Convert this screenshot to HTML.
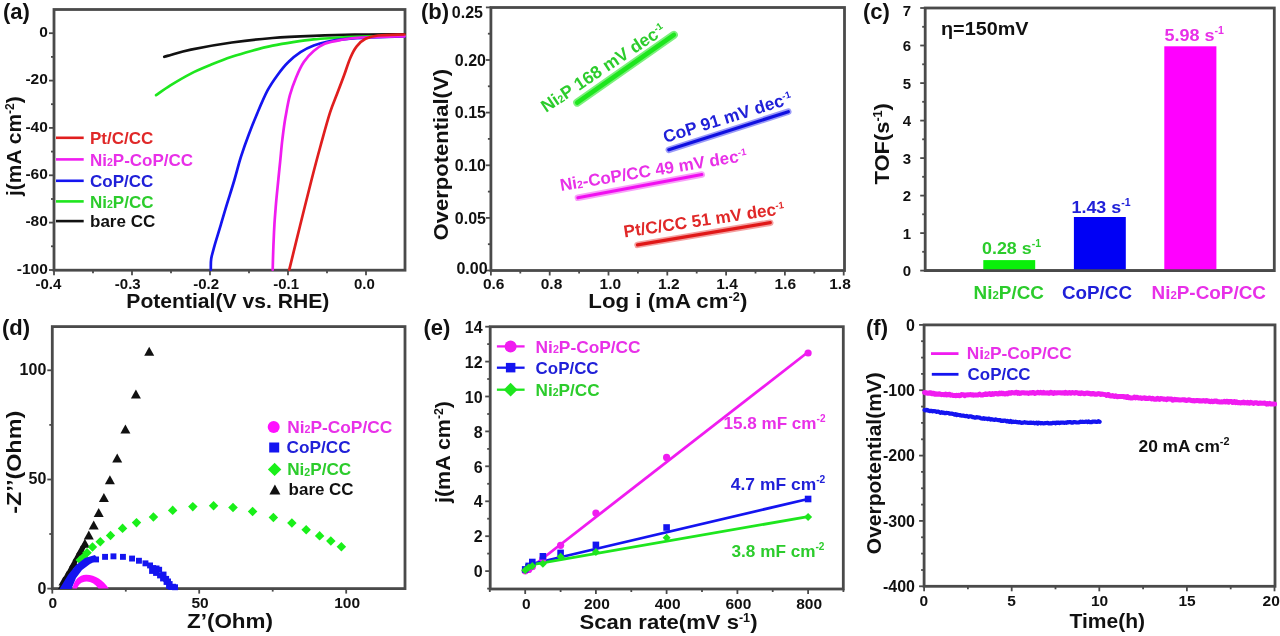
<!DOCTYPE html>
<html><head><meta charset="utf-8"><style>
html,body{margin:0;padding:0;background:#fff;}
svg{display:block;filter:blur(0.5px);}
text{font-family:"Liberation Sans", sans-serif;font-weight:bold;}
</style></head><body>
<svg width="1280" height="636" viewBox="0 0 1280 636">
<rect width="1280" height="636" fill="#fff"/>
<text x="3.0" y="19.2" font-size="22" fill="#111" >(a)</text>
<rect x="54.0" y="9.5" width="351.0" height="260.7" fill="none" stroke="#4a4a4a" stroke-width="2.8"/>
<line x1="49.0" y1="33.2" x2="54.0" y2="33.2" stroke="#4a4a4a" stroke-width="1.8" />
<line x1="49.0" y1="80.6" x2="54.0" y2="80.6" stroke="#4a4a4a" stroke-width="1.8" />
<line x1="49.0" y1="127.9" x2="54.0" y2="127.9" stroke="#4a4a4a" stroke-width="1.8" />
<line x1="49.0" y1="175.3" x2="54.0" y2="175.3" stroke="#4a4a4a" stroke-width="1.8" />
<line x1="49.0" y1="222.6" x2="54.0" y2="222.6" stroke="#4a4a4a" stroke-width="1.8" />
<line x1="49.0" y1="270.0" x2="54.0" y2="270.0" stroke="#4a4a4a" stroke-width="1.8" />
<line x1="51.0" y1="56.9" x2="54.0" y2="56.9" stroke="#4a4a4a" stroke-width="1.8" />
<line x1="51.0" y1="104.2" x2="54.0" y2="104.2" stroke="#4a4a4a" stroke-width="1.8" />
<line x1="51.0" y1="151.6" x2="54.0" y2="151.6" stroke="#4a4a4a" stroke-width="1.8" />
<line x1="51.0" y1="199.0" x2="54.0" y2="199.0" stroke="#4a4a4a" stroke-width="1.8" />
<line x1="51.0" y1="246.3" x2="54.0" y2="246.3" stroke="#4a4a4a" stroke-width="1.8" />
<line x1="54.0" y1="270.2" x2="54.0" y2="275.2" stroke="#4a4a4a" stroke-width="1.8" />
<line x1="132.0" y1="270.2" x2="132.0" y2="275.2" stroke="#4a4a4a" stroke-width="1.8" />
<line x1="210.0" y1="270.2" x2="210.0" y2="275.2" stroke="#4a4a4a" stroke-width="1.8" />
<line x1="288.0" y1="270.2" x2="288.0" y2="275.2" stroke="#4a4a4a" stroke-width="1.8" />
<line x1="366.0" y1="270.2" x2="366.0" y2="275.2" stroke="#4a4a4a" stroke-width="1.8" />
<line x1="93.0" y1="270.2" x2="93.0" y2="273.2" stroke="#4a4a4a" stroke-width="1.8" />
<line x1="171.0" y1="270.2" x2="171.0" y2="273.2" stroke="#4a4a4a" stroke-width="1.8" />
<line x1="249.0" y1="270.2" x2="249.0" y2="273.2" stroke="#4a4a4a" stroke-width="1.8" />
<line x1="327.0" y1="270.2" x2="327.0" y2="273.2" stroke="#4a4a4a" stroke-width="1.8" />
<text x="47.8" y="36.7" font-size="15.5" fill="#111" text-anchor="end" >0</text>
<text x="47.8" y="84.1" font-size="15.5" fill="#111" text-anchor="end" >-20</text>
<text x="47.8" y="131.5" font-size="15.5" fill="#111" text-anchor="end" >-40</text>
<text x="47.8" y="178.8" font-size="15.5" fill="#111" text-anchor="end" >-60</text>
<text x="47.8" y="226.2" font-size="15.5" fill="#111" text-anchor="end" >-80</text>
<text x="47.8" y="273.5" font-size="15.5" fill="#111" text-anchor="end" >-100</text>
<text x="35.5" y="288.6" font-size="15" fill="#111" >-0.4</text>
<text x="114.8" y="288.6" font-size="15" fill="#111" >-0.3</text>
<text x="193.2" y="288.6" font-size="15" fill="#111" >-0.2</text>
<text x="273.2" y="288.6" font-size="15" fill="#111" >-0.1</text>
<text x="354.0" y="288.6" font-size="15" fill="#111" >0.0</text>
<text x="126.3" y="308.4" font-size="21" fill="#111" textLength="203.0" lengthAdjust="spacingAndGlyphs" >Potential(V vs. RHE)</text>
<text x="20.8" y="196.0" font-size="21" fill="#111" transform="rotate(-90 20.8 196.0)" >j(mA cm<tspan font-size="12" dy="-7">-2</tspan><tspan dy="7">)</tspan></text>
<path d="M164.3,56.8 C165.2,56.5 165.6,56.4 170.0,55.2 C174.4,54.0 180.6,51.7 190.9,49.6 C201.2,47.5 218.2,44.4 231.8,42.5 C245.4,40.6 259.0,39.1 272.6,38.0 C286.2,36.9 299.9,36.4 313.5,35.9 C327.1,35.4 339.2,35.0 354.4,34.7 C369.6,34.4 396.1,34.4 404.5,34.3" fill="none" stroke="#111" stroke-width="2.7" stroke-linejoin="round" stroke-linecap="round" />
<path d="M156.1,95.2 C158.5,93.6 164.6,89.0 170.4,85.4 C176.2,81.8 184.1,77.1 190.9,73.6 C197.7,70.1 204.5,67.4 211.3,64.6 C218.1,61.8 225.0,59.1 231.8,56.8 C238.6,54.5 245.4,52.6 252.2,50.7 C259.0,48.8 265.8,47.0 272.6,45.6 C279.4,44.2 286.3,43.1 293.1,42.1 C299.9,41.1 306.7,40.1 313.5,39.4 C320.3,38.7 327.2,38.4 334.0,38.0 C340.8,37.6 342.6,37.1 354.4,36.8 C366.1,36.4 396.1,36.0 404.5,35.9" fill="none" stroke="#1ee61e" stroke-width="2.7" stroke-linejoin="round" stroke-linecap="round" />
<path d="M210.8,269.6 C210.9,267.8 210.6,262.7 211.2,258.8 C211.8,254.9 212.8,251.8 214.4,246.1 C216.0,240.4 218.7,232.0 220.8,224.9 C222.9,217.8 224.8,211.2 227.1,203.7 C229.4,196.2 232.1,187.8 234.4,180.0 C236.7,172.2 238.6,164.2 241.0,156.7 C243.4,149.1 245.9,142.0 248.7,134.7 C251.4,127.4 254.4,120.0 257.5,112.7 C260.6,105.4 264.1,97.0 267.4,90.7 C270.7,84.5 273.9,80.0 277.4,75.2 C280.9,70.4 284.5,65.8 288.4,62.0 C292.2,58.1 296.3,54.9 300.5,52.1 C304.7,49.4 309.3,47.2 313.7,45.5 C318.1,43.8 321.7,42.8 326.9,41.8 C332.1,40.8 337.8,39.9 345.0,39.2 C352.2,38.5 360.1,38.0 370.0,37.5 C379.9,37.0 398.8,36.7 404.5,36.5" fill="none" stroke="#1414f0" stroke-width="2.7" stroke-linejoin="round" stroke-linecap="round" />
<path d="M272.7,269.6 C272.8,265.7 273.1,253.6 273.4,246.1 C273.7,238.6 274.0,232.0 274.4,224.9 C274.8,217.8 275.4,211.2 276.0,203.7 C276.6,196.2 277.6,187.1 278.3,180.0 C279.0,172.9 279.5,167.9 280.2,161.1 C280.9,154.3 281.5,146.4 282.4,139.1 C283.3,131.8 284.2,124.4 285.5,117.1 C286.8,109.8 288.1,101.7 289.9,95.1 C291.7,88.5 293.8,82.9 296.1,77.4 C298.4,71.9 300.9,66.4 303.8,62.0 C306.7,57.6 310.2,54.0 313.7,51.0 C317.2,48.0 320.3,45.6 324.7,43.8 C329.1,42.0 334.4,41.1 340.3,40.1 C346.2,39.1 349.7,38.1 360.4,37.5 C371.1,36.9 397.1,36.5 404.5,36.3" fill="none" stroke="#f01cf0" stroke-width="2.7" stroke-linejoin="round" stroke-linecap="round" />
<path d="M289.3,269.6 C291.1,262.3 296.3,240.9 300.0,226.0 C303.7,211.1 308.1,193.3 311.5,180.0 C314.9,166.7 317.4,157.2 320.5,146.0 C323.6,134.8 327.2,121.4 330.0,112.7 C332.8,104.0 334.6,100.2 337.0,94.0 C339.4,87.8 341.9,81.3 344.1,75.3 C346.3,69.2 348.3,62.5 350.4,57.7 C352.5,52.9 354.2,49.5 356.7,46.4 C359.2,43.2 361.9,40.6 365.5,38.8 C369.1,37.0 371.5,36.2 378.0,35.5 C384.5,34.8 400.1,34.7 404.5,34.5" fill="none" stroke="#e01e1e" stroke-width="2.7" stroke-linejoin="round" stroke-linecap="round" />
<line x1="56.0" y1="137.8" x2="83.7" y2="137.8" stroke="#e01e1e" stroke-width="2.6" />
<text x="90.0" y="144.0" font-size="17" fill="#e02828" >Pt/C/CC</text>
<line x1="56.0" y1="159.4" x2="83.7" y2="159.4" stroke="#f01cf0" stroke-width="2.6" />
<text x="90.0" y="165.6" font-size="17" fill="#e830e8" >Ni<tspan font-size="10.5" dy="0.3">2</tspan><tspan dy="-0.3">P-CoP/CC</tspan></text>
<line x1="56.0" y1="180.8" x2="83.7" y2="180.8" stroke="#1414f0" stroke-width="2.6" />
<text x="90.0" y="187.0" font-size="17" fill="#2020d8" >CoP/CC</text>
<line x1="56.0" y1="201.4" x2="83.7" y2="201.4" stroke="#1ee61e" stroke-width="2.6" />
<text x="90.0" y="207.6" font-size="17" fill="#2ccc2c" >Ni<tspan font-size="10.5" dy="0.3">2</tspan><tspan dy="-0.3">P/CC</tspan></text>
<line x1="56.0" y1="221.1" x2="83.7" y2="221.1" stroke="#111" stroke-width="2.6" />
<text x="90.0" y="227.3" font-size="17" fill="#111" >bare CC</text>
<text x="421.0" y="19.2" font-size="22" fill="#111" >(b)</text>
<rect x="490.9" y="7.5" width="353.6" height="263.0" fill="none" stroke="#4a4a4a" stroke-width="2.8"/>
<line x1="485.9" y1="270.5" x2="490.9" y2="270.5" stroke="#4a4a4a" stroke-width="1.8" />
<line x1="485.9" y1="217.9" x2="490.9" y2="217.9" stroke="#4a4a4a" stroke-width="1.8" />
<line x1="485.9" y1="165.3" x2="490.9" y2="165.3" stroke="#4a4a4a" stroke-width="1.8" />
<line x1="485.9" y1="112.6" x2="490.9" y2="112.6" stroke="#4a4a4a" stroke-width="1.8" />
<line x1="485.9" y1="60.0" x2="490.9" y2="60.0" stroke="#4a4a4a" stroke-width="1.8" />
<line x1="485.9" y1="7.4" x2="490.9" y2="7.4" stroke="#4a4a4a" stroke-width="1.8" />
<line x1="487.9" y1="244.2" x2="490.9" y2="244.2" stroke="#4a4a4a" stroke-width="1.8" />
<line x1="487.9" y1="191.6" x2="490.9" y2="191.6" stroke="#4a4a4a" stroke-width="1.8" />
<line x1="487.9" y1="138.9" x2="490.9" y2="138.9" stroke="#4a4a4a" stroke-width="1.8" />
<line x1="487.9" y1="86.3" x2="490.9" y2="86.3" stroke="#4a4a4a" stroke-width="1.8" />
<line x1="487.9" y1="33.7" x2="490.9" y2="33.7" stroke="#4a4a4a" stroke-width="1.8" />
<line x1="490.9" y1="270.5" x2="490.9" y2="275.5" stroke="#4a4a4a" stroke-width="1.8" />
<line x1="549.7" y1="270.5" x2="549.7" y2="275.5" stroke="#4a4a4a" stroke-width="1.8" />
<line x1="608.5" y1="270.5" x2="608.5" y2="275.5" stroke="#4a4a4a" stroke-width="1.8" />
<line x1="667.3" y1="270.5" x2="667.3" y2="275.5" stroke="#4a4a4a" stroke-width="1.8" />
<line x1="726.1" y1="270.5" x2="726.1" y2="275.5" stroke="#4a4a4a" stroke-width="1.8" />
<line x1="784.9" y1="270.5" x2="784.9" y2="275.5" stroke="#4a4a4a" stroke-width="1.8" />
<line x1="843.7" y1="270.5" x2="843.7" y2="275.5" stroke="#4a4a4a" stroke-width="1.8" />
<line x1="520.3" y1="270.5" x2="520.3" y2="273.5" stroke="#4a4a4a" stroke-width="1.8" />
<line x1="579.1" y1="270.5" x2="579.1" y2="273.5" stroke="#4a4a4a" stroke-width="1.8" />
<line x1="637.9" y1="270.5" x2="637.9" y2="273.5" stroke="#4a4a4a" stroke-width="1.8" />
<line x1="696.7" y1="270.5" x2="696.7" y2="273.5" stroke="#4a4a4a" stroke-width="1.8" />
<line x1="755.5" y1="270.5" x2="755.5" y2="273.5" stroke="#4a4a4a" stroke-width="1.8" />
<line x1="814.3" y1="270.5" x2="814.3" y2="273.5" stroke="#4a4a4a" stroke-width="1.8" />
<text x="483.0" y="17.5" font-size="16" fill="#111" text-anchor="end" >0.25</text>
<text x="486.0" y="65.7" font-size="16" fill="#111" text-anchor="end" >0.20</text>
<text x="486.0" y="118.4" font-size="16" fill="#111" text-anchor="end" >0.15</text>
<text x="486.0" y="171.0" font-size="16" fill="#111" text-anchor="end" >0.10</text>
<text x="486.0" y="223.6" font-size="16" fill="#111" text-anchor="end" >0.05</text>
<text x="487.6" y="273.9" font-size="16" fill="#111" text-anchor="end" >0.00</text>
<text x="493.7" y="289.2" font-size="15.5" fill="#111" text-anchor="middle" >0.6</text>
<text x="551.5" y="289.2" font-size="15.5" fill="#111" text-anchor="middle" >0.8</text>
<text x="610.3" y="289.2" font-size="15.5" fill="#111" text-anchor="middle" >1.0</text>
<text x="668.9" y="289.2" font-size="15.5" fill="#111" text-anchor="middle" >1.2</text>
<text x="727.0" y="289.2" font-size="15.5" fill="#111" text-anchor="middle" >1.4</text>
<text x="785.4" y="289.2" font-size="15.5" fill="#111" text-anchor="middle" >1.6</text>
<text x="840.0" y="289.2" font-size="15.5" fill="#111" text-anchor="middle" >1.8</text>
<text x="588.3" y="308.0" font-size="21" fill="#111" textLength="159.0" lengthAdjust="spacingAndGlyphs" >Log i (mA cm<tspan font-size="12" dy="-7">-2</tspan><tspan dy="7">)</tspan></text>
<text x="448.2" y="240.5" font-size="21" fill="#111" textLength="171.5" lengthAdjust="spacingAndGlyphs" transform="rotate(-90 448.2 240.5)" >Overpotential(V)</text>
<line x1="577.2" y1="102.6" x2="673.9" y2="34.9" stroke="#7cf07c" stroke-width="8" stroke-linecap="round"/>
<line x1="577.2" y1="102.6" x2="673.9" y2="34.9" stroke="#1ee61e" stroke-width="4.5" stroke-linecap="round"/>
<line x1="668.8" y1="149.8" x2="788.3" y2="111.7" stroke="#9a9af8" stroke-width="6.5" stroke-linecap="round"/>
<line x1="668.8" y1="149.8" x2="788.3" y2="111.7" stroke="#1010e0" stroke-width="3.2" stroke-linecap="round"/>
<line x1="577.9" y1="197.8" x2="701.8" y2="174.5" stroke="#f8a0f8" stroke-width="6.5" stroke-linecap="round"/>
<line x1="577.9" y1="197.8" x2="701.8" y2="174.5" stroke="#f010f0" stroke-width="3.2" stroke-linecap="round"/>
<line x1="637.5" y1="244.9" x2="770.3" y2="222.7" stroke="#f4a0a0" stroke-width="6.5" stroke-linecap="round"/>
<line x1="637.5" y1="244.9" x2="770.3" y2="222.7" stroke="#e01818" stroke-width="3.2" stroke-linecap="round"/>
<text x="546.0" y="113.0" font-size="17.6" fill="#2ccc2c" transform="rotate(-33.7 546.0 113.0)" >Ni<tspan font-size="10.5" dy="0.3">2</tspan><tspan dy="-0.3">P 168 mV dec<tspan font-size="9.5" dy="-6">-1</tspan><tspan dy="6"></tspan></tspan></text>
<text x="665.3" y="143.0" font-size="17.4" fill="#2020d8" transform="rotate(-17.4 665.3 143.0)" >CoP 91 mV dec<tspan font-size="9.5" dy="-6">-1</tspan><tspan dy="6"></tspan></text>
<text x="561.0" y="191.0" font-size="17" fill="#e830e8" transform="rotate(-9.25 561.0 191.0)" >Ni<tspan font-size="10.5" dy="0.3">2</tspan><tspan dy="-0.3">-CoP/CC 49 mV dec<tspan font-size="9.5" dy="-6">-1</tspan><tspan dy="6"></tspan></tspan></text>
<text x="624.6" y="237.5" font-size="17.2" fill="#e02828" transform="rotate(-8.4 624.6 237.5)" >Pt/C/CC 51 mV dec<tspan font-size="9.5" dy="-6">-1</tspan><tspan dy="6"></tspan></text>
<text x="863.0" y="19.4" font-size="22" fill="#111" >(c)</text>
<rect x="925.2" y="8.0" width="349.1" height="262.6" fill="none" stroke="#4a4a4a" stroke-width="2.8"/>
<line x1="920.2" y1="270.6" x2="925.2" y2="270.6" stroke="#4a4a4a" stroke-width="1.8" />
<line x1="920.2" y1="233.1" x2="925.2" y2="233.1" stroke="#4a4a4a" stroke-width="1.8" />
<line x1="920.2" y1="195.6" x2="925.2" y2="195.6" stroke="#4a4a4a" stroke-width="1.8" />
<line x1="920.2" y1="158.1" x2="925.2" y2="158.1" stroke="#4a4a4a" stroke-width="1.8" />
<line x1="920.2" y1="120.6" x2="925.2" y2="120.6" stroke="#4a4a4a" stroke-width="1.8" />
<line x1="920.2" y1="83.1" x2="925.2" y2="83.1" stroke="#4a4a4a" stroke-width="1.8" />
<line x1="920.2" y1="45.5" x2="925.2" y2="45.5" stroke="#4a4a4a" stroke-width="1.8" />
<line x1="920.2" y1="8.0" x2="925.2" y2="8.0" stroke="#4a4a4a" stroke-width="1.8" />
<line x1="922.2" y1="251.8" x2="925.2" y2="251.8" stroke="#4a4a4a" stroke-width="1.8" />
<line x1="922.2" y1="214.3" x2="925.2" y2="214.3" stroke="#4a4a4a" stroke-width="1.8" />
<line x1="922.2" y1="176.8" x2="925.2" y2="176.8" stroke="#4a4a4a" stroke-width="1.8" />
<line x1="922.2" y1="139.3" x2="925.2" y2="139.3" stroke="#4a4a4a" stroke-width="1.8" />
<line x1="922.2" y1="101.8" x2="925.2" y2="101.8" stroke="#4a4a4a" stroke-width="1.8" />
<line x1="922.2" y1="64.3" x2="925.2" y2="64.3" stroke="#4a4a4a" stroke-width="1.8" />
<line x1="922.2" y1="26.8" x2="925.2" y2="26.8" stroke="#4a4a4a" stroke-width="1.8" />
<text x="911.0" y="276.3" font-size="15" fill="#111" text-anchor="end" >0</text>
<text x="911.0" y="238.8" font-size="15" fill="#111" text-anchor="end" >1</text>
<text x="911.0" y="201.3" font-size="15" fill="#111" text-anchor="end" >2</text>
<text x="911.0" y="163.7" font-size="15" fill="#111" text-anchor="end" >3</text>
<text x="911.0" y="126.2" font-size="15" fill="#111" text-anchor="end" >4</text>
<text x="911.0" y="88.7" font-size="15" fill="#111" text-anchor="end" >5</text>
<text x="911.0" y="51.2" font-size="15" fill="#111" text-anchor="end" >6</text>
<text x="911.0" y="16.2" font-size="15" fill="#111" text-anchor="end" >7</text>
<rect x="983.3" y="260.1" width="51.9" height="10.5" fill="#0af00a"/>
<rect x="1073.9" y="217.0" width="51.9" height="53.6" fill="#0000f5"/>
<rect x="1164.3" y="46.3" width="52.1" height="224.3" fill="#ff00ff"/>
<line x1="925.2" y1="270.6" x2="1274.3" y2="270.6" stroke="#4a4a4a" stroke-width="2.8" />
<text x="982.0" y="253.5" font-size="17" fill="#2ccc2c" textLength="59.0" lengthAdjust="spacingAndGlyphs" >0.28 s<tspan font-size="10" dy="-7">-1</tspan><tspan dy="7"></tspan></text>
<text x="1071.5" y="212.5" font-size="17" fill="#2020d8" textLength="59.0" lengthAdjust="spacingAndGlyphs" >1.43 s<tspan font-size="10" dy="-7">-1</tspan><tspan dy="7"></tspan></text>
<text x="1164.5" y="41.3" font-size="17" fill="#e830e8" textLength="59.5" lengthAdjust="spacingAndGlyphs" >5.98 s<tspan font-size="10" dy="-7">-1</tspan><tspan dy="7"></tspan></text>
<text x="973.5" y="298.5" font-size="19" fill="#2ccc2c" textLength="70.5" lengthAdjust="spacingAndGlyphs" >Ni<tspan font-size="11.5" dy="0.3">2</tspan><tspan dy="-0.3">P/CC</tspan></text>
<text x="1062.0" y="298.5" font-size="19" fill="#2020d8" textLength="70.0" lengthAdjust="spacingAndGlyphs" >CoP/CC</text>
<text x="1151.5" y="298.5" font-size="19" fill="#e830e8" textLength="114.5" lengthAdjust="spacingAndGlyphs" >Ni<tspan font-size="11.5" dy="0.3">2</tspan><tspan dy="-0.3">P-CoP/CC</tspan></text>
<text x="941.0" y="35.4" font-size="19" fill="#111" textLength="87.5" lengthAdjust="spacingAndGlyphs" >&#951;=150mV</text>
<text x="888.6" y="184.6" font-size="21" fill="#111" textLength="81.5" lengthAdjust="spacingAndGlyphs" transform="rotate(-90 888.6 184.6)" >TOF(s<tspan font-size="12" dy="-7">-1</tspan><tspan dy="7">)</tspan></text>
<text x="2.0" y="334.8" font-size="22" fill="#111" >(d)</text>
<rect x="52.3" y="326.6" width="352.7" height="262.0" fill="none" stroke="#4a4a4a" stroke-width="2.8"/>
<line x1="47.3" y1="588.6" x2="52.3" y2="588.6" stroke="#4a4a4a" stroke-width="1.8" />
<line x1="47.3" y1="479.5" x2="52.3" y2="479.5" stroke="#4a4a4a" stroke-width="1.8" />
<line x1="47.3" y1="370.3" x2="52.3" y2="370.3" stroke="#4a4a4a" stroke-width="1.8" />
<line x1="49.3" y1="534.0" x2="52.3" y2="534.0" stroke="#4a4a4a" stroke-width="1.8" />
<line x1="49.3" y1="424.9" x2="52.3" y2="424.9" stroke="#4a4a4a" stroke-width="1.8" />
<line x1="52.3" y1="588.6" x2="52.3" y2="593.6" stroke="#4a4a4a" stroke-width="1.8" />
<line x1="199.2" y1="588.6" x2="199.2" y2="593.6" stroke="#4a4a4a" stroke-width="1.8" />
<line x1="346.2" y1="588.6" x2="346.2" y2="593.6" stroke="#4a4a4a" stroke-width="1.8" />
<line x1="125.8" y1="588.6" x2="125.8" y2="591.6" stroke="#4a4a4a" stroke-width="1.8" />
<line x1="272.7" y1="588.6" x2="272.7" y2="591.6" stroke="#4a4a4a" stroke-width="1.8" />
<text x="46.3" y="593.5" font-size="16" fill="#111" text-anchor="end" >0</text>
<text x="46.3" y="484.4" font-size="16" fill="#111" text-anchor="end" >50</text>
<text x="46.3" y="375.2" font-size="16" fill="#111" text-anchor="end" >100</text>
<text x="52.8" y="608.3" font-size="15.5" fill="#111" text-anchor="middle" >0</text>
<text x="200.1" y="608.3" font-size="15.5" fill="#111" text-anchor="middle" >50</text>
<text x="347.1" y="608.3" font-size="15.5" fill="#111" text-anchor="middle" >100</text>
<text x="187.0" y="628.0" font-size="21" fill="#111" textLength="86.0" lengthAdjust="spacingAndGlyphs" >Z&#8217;(Ohm)</text>
<text x="21.0" y="513.8" font-size="21" fill="#111" textLength="103.0" lengthAdjust="spacingAndGlyphs" transform="rotate(-90 21.0 513.8)" >-Z&#8217;&#8217;(Ohm)</text>
<polygon points="58,589 62,589 86,547 83,543" fill="#111"/>
<polygon points="149.2,346.7 154.2,355.7 144.2,355.7" fill="#111"/>
<polygon points="135.9,389.6 140.9,398.6 130.9,398.6" fill="#111"/>
<polygon points="125.4,424.4 130.4,433.4 120.4,433.4" fill="#111"/>
<polygon points="117.2,453.4 122.2,462.4 112.2,462.4" fill="#111"/>
<polygon points="109.9,475.2 114.9,484.2 104.9,484.2" fill="#111"/>
<polygon points="103.9,493.1 108.9,502.1 98.9,502.1" fill="#111"/>
<polygon points="98.7,508.1 103.7,517.1 93.7,517.1" fill="#111"/>
<polygon points="93.7,520.6 98.7,529.6 88.7,529.6" fill="#111"/>
<polygon points="88.8,530.4 93.8,539.4 83.8,539.4" fill="#111"/>
<polygon points="84.9,538.7 89.9,547.7 79.9,547.7" fill="#111"/>
<polygon points="81.0,545.6 86.0,554.6 76.0,554.6" fill="#111"/>
<polygon points="77.5,552.1 82.5,561.1 72.5,561.1" fill="#111"/>
<polygon points="74.0,558.6 79.0,567.6 69.0,567.6" fill="#111"/>
<polygon points="70.5,565.1 75.5,574.1 65.5,574.1" fill="#111"/>
<polygon points="67.0,571.1 72.0,580.1 62.0,580.1" fill="#111"/>
<polygon points="63.5,576.6 68.5,585.6 58.5,585.6" fill="#111"/>
<polygon points="80.2,555.2 85.0,560.0 80.2,564.8 75.5,560.0" fill="#19f019"/>
<polygon points="83.6,552.5 88.3,557.2 83.6,562.0 78.8,557.2" fill="#19f019"/>
<polygon points="87.0,548.0 91.8,552.8 87.0,557.5 82.2,552.8" fill="#19f019"/>
<polygon points="92.5,542.2 97.2,547.0 92.5,551.8 87.8,547.0" fill="#19f019"/>
<polygon points="100.3,537.0 105.0,541.8 100.3,546.5 95.5,541.8" fill="#19f019"/>
<polygon points="110.5,530.8 115.2,535.5 110.5,540.2 105.8,535.5" fill="#19f019"/>
<polygon points="122.6,523.6 127.3,528.4 122.6,533.1 117.8,528.4" fill="#19f019"/>
<polygon points="136.5,517.9 141.2,522.6 136.5,527.4 131.8,522.6" fill="#19f019"/>
<polygon points="153.4,512.2 158.2,517.0 153.4,521.8 148.7,517.0" fill="#19f019"/>
<polygon points="172.7,505.6 177.4,510.4 172.7,515.1 167.9,510.4" fill="#19f019"/>
<polygon points="192.8,501.9 197.6,506.6 192.8,511.4 188.1,506.6" fill="#19f019"/>
<polygon points="213.6,501.1 218.3,505.8 213.6,510.6 208.8,505.8" fill="#19f019"/>
<polygon points="233.0,502.8 237.8,507.5 233.0,512.2 228.2,507.5" fill="#19f019"/>
<polygon points="252.6,506.8 257.4,511.5 252.6,516.2 247.8,511.5" fill="#19f019"/>
<polygon points="273.4,512.8 278.1,517.5 273.4,522.2 268.6,517.5" fill="#19f019"/>
<polygon points="291.9,518.2 296.6,523.0 291.9,527.8 287.1,523.0" fill="#19f019"/>
<polygon points="306.2,525.0 310.9,529.8 306.2,534.5 301.4,529.8" fill="#19f019"/>
<polygon points="319.6,531.1 324.4,535.9 319.6,540.6 314.9,535.9" fill="#19f019"/>
<polygon points="330.8,536.2 335.6,541.0 330.8,545.8 326.1,541.0" fill="#19f019"/>
<polygon points="341.4,542.0 346.1,546.7 341.4,551.5 336.6,546.7" fill="#19f019"/>
<path d="M59.5,589 L71.5,589 L76,578 L82,570 L90,564 L98,560 L95,555 L85,558 L76,565 L68,575 Z" fill="#1414f0"/>
<rect x="93.1" y="556.5" width="5.9" height="5.9" fill="#1414f0"/>
<rect x="102.1" y="553.9" width="5.9" height="5.9" fill="#1414f0"/>
<rect x="110.5" y="553.4" width="5.9" height="5.9" fill="#1414f0"/>
<rect x="120.0" y="553.9" width="5.9" height="5.9" fill="#1414f0"/>
<rect x="129.1" y="555.6" width="5.9" height="5.9" fill="#1414f0"/>
<rect x="136.0" y="557.8" width="5.9" height="5.9" fill="#1414f0"/>
<rect x="142.5" y="560.4" width="5.9" height="5.9" fill="#1414f0"/>
<rect x="147.1" y="562.5" width="5.9" height="5.9" fill="#1414f0"/>
<rect x="150.2" y="565.1" width="5.9" height="5.9" fill="#1414f0"/>
<rect x="153.6" y="565.5" width="5.9" height="5.9" fill="#1414f0"/>
<rect x="156.2" y="566.8" width="5.9" height="5.9" fill="#1414f0"/>
<rect x="160.6" y="571.6" width="5.9" height="5.9" fill="#1414f0"/>
<rect x="163.2" y="575.9" width="5.9" height="5.9" fill="#1414f0"/>
<rect x="165.1" y="578.5" width="5.9" height="5.9" fill="#1414f0"/>
<rect x="166.7" y="581.1" width="5.9" height="5.9" fill="#1414f0"/>
<rect x="170.1" y="583.8" width="5.9" height="5.9" fill="#1414f0"/>
<rect x="168.1" y="584.0" width="5.9" height="5.9" fill="#1414f0"/>
<rect x="149.1" y="568.0" width="5.9" height="5.9" fill="#1414f0"/>
<rect x="153.1" y="570.0" width="5.9" height="5.9" fill="#1414f0"/>
<rect x="157.1" y="572.5" width="5.9" height="5.9" fill="#1414f0"/>
<rect x="160.1" y="575.5" width="5.9" height="5.9" fill="#1414f0"/>
<rect x="163.6" y="579.0" width="5.9" height="5.9" fill="#1414f0"/>
<rect x="166.1" y="583.0" width="5.9" height="5.9" fill="#1414f0"/>
<rect x="172.1" y="584.3" width="5.9" height="5.9" fill="#1414f0"/>
<path d="M72.5,588.6 C74,580 79,575 86,574.8 C95,574.6 103,580 108.8,588.6 L98.5,588.6 C95,584 91,581.5 86.5,581.6 C81,581.8 78.5,585 77,588.6 Z" fill="#ff10ff"/>
<circle cx="273.7" cy="427.0" r="6.0" fill="#ff10ff"/>
<text x="287.2" y="433.0" font-size="17" fill="#e830e8" textLength="105.0" lengthAdjust="spacingAndGlyphs" >Ni<tspan font-size="10.5" dy="0.3">2</tspan><tspan dy="-0.3">P-CoP/CC</tspan></text>
<rect x="269.2" y="442.5" width="10.0" height="10.0" fill="#1414f0"/>
<text x="286.6" y="453.4" font-size="17" fill="#2020d8" textLength="64.0" lengthAdjust="spacingAndGlyphs" >CoP/CC</text>
<polygon points="274.6,462.7 281.3,469.4 274.6,476.1 267.9,469.4" fill="#19f019"/>
<text x="287.2" y="475.2" font-size="17" fill="#2ccc2c" textLength="64.0" lengthAdjust="spacingAndGlyphs" >Ni<tspan font-size="10.5" dy="0.3">2</tspan><tspan dy="-0.3">P/CC</tspan></text>
<polygon points="274.9,484.5 280.4,494.5 269.4,494.5" fill="#111"/>
<text x="288.6" y="495.0" font-size="17" fill="#111" textLength="65.0" lengthAdjust="spacingAndGlyphs" >bare CC</text>
<text x="423.5" y="334.6" font-size="22" fill="#111" >(e)</text>
<rect x="490.2" y="326.7" width="353.1" height="262.3" fill="none" stroke="#4a4a4a" stroke-width="2.8"/>
<line x1="485.2" y1="571.1" x2="490.2" y2="571.1" stroke="#4a4a4a" stroke-width="1.8" />
<line x1="485.2" y1="536.2" x2="490.2" y2="536.2" stroke="#4a4a4a" stroke-width="1.8" />
<line x1="485.2" y1="501.3" x2="490.2" y2="501.3" stroke="#4a4a4a" stroke-width="1.8" />
<line x1="485.2" y1="466.3" x2="490.2" y2="466.3" stroke="#4a4a4a" stroke-width="1.8" />
<line x1="485.2" y1="431.4" x2="490.2" y2="431.4" stroke="#4a4a4a" stroke-width="1.8" />
<line x1="485.2" y1="396.5" x2="490.2" y2="396.5" stroke="#4a4a4a" stroke-width="1.8" />
<line x1="485.2" y1="361.6" x2="490.2" y2="361.6" stroke="#4a4a4a" stroke-width="1.8" />
<line x1="485.2" y1="326.7" x2="490.2" y2="326.7" stroke="#4a4a4a" stroke-width="1.8" />
<line x1="487.2" y1="588.6" x2="490.2" y2="588.6" stroke="#4a4a4a" stroke-width="1.8" />
<line x1="487.2" y1="553.6" x2="490.2" y2="553.6" stroke="#4a4a4a" stroke-width="1.8" />
<line x1="487.2" y1="518.7" x2="490.2" y2="518.7" stroke="#4a4a4a" stroke-width="1.8" />
<line x1="487.2" y1="483.8" x2="490.2" y2="483.8" stroke="#4a4a4a" stroke-width="1.8" />
<line x1="487.2" y1="448.9" x2="490.2" y2="448.9" stroke="#4a4a4a" stroke-width="1.8" />
<line x1="487.2" y1="414.0" x2="490.2" y2="414.0" stroke="#4a4a4a" stroke-width="1.8" />
<line x1="487.2" y1="379.0" x2="490.2" y2="379.0" stroke="#4a4a4a" stroke-width="1.8" />
<line x1="487.2" y1="344.1" x2="490.2" y2="344.1" stroke="#4a4a4a" stroke-width="1.8" />
<line x1="525.2" y1="589.0" x2="525.2" y2="594.0" stroke="#4a4a4a" stroke-width="1.8" />
<line x1="595.9" y1="589.0" x2="595.9" y2="594.0" stroke="#4a4a4a" stroke-width="1.8" />
<line x1="666.6" y1="589.0" x2="666.6" y2="594.0" stroke="#4a4a4a" stroke-width="1.8" />
<line x1="737.4" y1="589.0" x2="737.4" y2="594.0" stroke="#4a4a4a" stroke-width="1.8" />
<line x1="808.1" y1="589.0" x2="808.1" y2="594.0" stroke="#4a4a4a" stroke-width="1.8" />
<line x1="489.8" y1="589.0" x2="489.8" y2="592.0" stroke="#4a4a4a" stroke-width="1.8" />
<line x1="560.6" y1="589.0" x2="560.6" y2="592.0" stroke="#4a4a4a" stroke-width="1.8" />
<line x1="631.3" y1="589.0" x2="631.3" y2="592.0" stroke="#4a4a4a" stroke-width="1.8" />
<line x1="702.0" y1="589.0" x2="702.0" y2="592.0" stroke="#4a4a4a" stroke-width="1.8" />
<line x1="772.7" y1="589.0" x2="772.7" y2="592.0" stroke="#4a4a4a" stroke-width="1.8" />
<line x1="843.4" y1="589.0" x2="843.4" y2="592.0" stroke="#4a4a4a" stroke-width="1.8" />
<text x="482.6" y="577.2" font-size="16" fill="#111" text-anchor="end" >0</text>
<text x="482.6" y="542.3" font-size="16" fill="#111" text-anchor="end" >2</text>
<text x="482.6" y="507.4" font-size="16" fill="#111" text-anchor="end" >4</text>
<text x="482.6" y="472.5" font-size="16" fill="#111" text-anchor="end" >6</text>
<text x="482.6" y="437.5" font-size="16" fill="#111" text-anchor="end" >8</text>
<text x="482.6" y="402.6" font-size="16" fill="#111" text-anchor="end" >10</text>
<text x="482.6" y="367.7" font-size="16" fill="#111" text-anchor="end" >12</text>
<text x="482.6" y="332.8" font-size="16" fill="#111" text-anchor="end" >14</text>
<text x="526.2" y="609.0" font-size="15.5" fill="#111" text-anchor="middle" >0</text>
<text x="596.9" y="609.0" font-size="15.5" fill="#111" text-anchor="middle" >200</text>
<text x="667.6" y="609.0" font-size="15.5" fill="#111" text-anchor="middle" >400</text>
<text x="738.4" y="609.0" font-size="15.5" fill="#111" text-anchor="middle" >600</text>
<text x="809.1" y="609.0" font-size="15.5" fill="#111" text-anchor="middle" >800</text>
<text x="579.5" y="628.7" font-size="21" fill="#111" textLength="178.0" lengthAdjust="spacingAndGlyphs" >Scan rate(mV s<tspan font-size="12" dy="-7">-1</tspan><tspan dy="7">)</tspan></text>
<text x="449.5" y="503.0" font-size="21" fill="#111" textLength="102.0" lengthAdjust="spacingAndGlyphs" transform="rotate(-90 449.5 503.0)" >j(mA cm<tspan font-size="12" dy="-7">-2</tspan><tspan dy="7">)</tspan></text>
<line x1="525.2" y1="572.0" x2="808.1" y2="352.0" stroke="#f01cf0" stroke-width="2.8" />
<line x1="525.2" y1="565.5" x2="808.1" y2="499.0" stroke="#1414f0" stroke-width="2.8" />
<line x1="525.2" y1="565.9" x2="808.1" y2="516.6" stroke="#1ee61e" stroke-width="2.8" />
<circle cx="525.2" cy="570.8" r="3.6" fill="#f01cf0"/>
<circle cx="528.7" cy="569.4" r="3.6" fill="#f01cf0"/>
<circle cx="532.3" cy="566.7" r="3.6" fill="#f01cf0"/>
<circle cx="542.9" cy="558.5" r="3.6" fill="#f01cf0"/>
<circle cx="560.6" cy="545.3" r="3.6" fill="#f01cf0"/>
<circle cx="595.9" cy="513.1" r="3.6" fill="#f01cf0"/>
<circle cx="666.6" cy="457.4" r="3.6" fill="#f01cf0"/>
<circle cx="808.1" cy="353.0" r="3.6" fill="#f01cf0"/>
<rect x="521.9" y="566.1" width="6.6" height="6.6" fill="#1414f0"/>
<rect x="525.4" y="562.6" width="6.6" height="6.6" fill="#1414f0"/>
<rect x="529.0" y="558.7" width="6.6" height="6.6" fill="#1414f0"/>
<rect x="539.6" y="553.0" width="6.6" height="6.6" fill="#1414f0"/>
<rect x="557.3" y="549.6" width="6.6" height="6.6" fill="#1414f0"/>
<rect x="592.6" y="541.6" width="6.6" height="6.6" fill="#1414f0"/>
<rect x="663.3" y="524.2" width="6.6" height="6.6" fill="#1414f0"/>
<rect x="804.8" y="495.7" width="6.6" height="6.6" fill="#1414f0"/>
<polygon points="525.2,566.2 529.2,570.2 525.2,574.2 521.2,570.2" fill="#1ee61e"/>
<polygon points="528.7,563.6 532.7,567.6 528.7,571.6 524.7,567.6" fill="#1ee61e"/>
<polygon points="532.3,561.9 536.3,565.9 532.3,569.9 528.3,565.9" fill="#1ee61e"/>
<polygon points="542.9,559.8 546.9,563.8 542.9,567.8 538.9,563.8" fill="#1ee61e"/>
<polygon points="560.6,552.8 564.6,556.8 560.6,560.8 556.6,556.8" fill="#1ee61e"/>
<polygon points="595.9,547.9 599.9,551.9 595.9,555.9 591.9,551.9" fill="#1ee61e"/>
<polygon points="666.6,533.8 670.6,537.8 666.6,541.8 662.6,537.8" fill="#1ee61e"/>
<polygon points="808.1,513.1 812.1,517.1 808.1,521.1 804.1,517.1" fill="#1ee61e"/>
<line x1="496.9" y1="346.4" x2="524.6" y2="346.4" stroke="#f01cf0" stroke-width="2.3" />
<circle cx="510.6" cy="346.4" r="6.0" fill="#f01cf0"/>
<line x1="496.9" y1="367.7" x2="524.6" y2="367.7" stroke="#1414f0" stroke-width="2.3" />
<rect x="505.9" y="362.9" width="9.5" height="9.5" fill="#1414f0"/>
<line x1="496.9" y1="389.7" x2="524.6" y2="389.7" stroke="#1ee61e" stroke-width="2.3" />
<polygon points="510.6,382.8 517.5,389.7 510.6,396.6 503.7,389.7" fill="#1ee61e"/>
<text x="535.6" y="352.6" font-size="17" fill="#e830e8" textLength="105.0" lengthAdjust="spacingAndGlyphs" >Ni<tspan font-size="10.5" dy="0.3">2</tspan><tspan dy="-0.3">P-CoP/CC</tspan></text>
<text x="535.6" y="374.0" font-size="17" fill="#2020d8" textLength="63.0" lengthAdjust="spacingAndGlyphs" >CoP/CC</text>
<text x="535.6" y="396.0" font-size="17" fill="#2ccc2c" textLength="64.0" lengthAdjust="spacingAndGlyphs" >Ni<tspan font-size="10.5" dy="0.3">2</tspan><tspan dy="-0.3">P/CC</tspan></text>
<text x="723.5" y="429.0" font-size="17" fill="#e830e8" textLength="102.0" lengthAdjust="spacingAndGlyphs" >15.8 mF cm<tspan font-size="10" dy="-7">-2</tspan><tspan dy="7"></tspan></text>
<text x="730.8" y="490.1" font-size="17" fill="#2020d8" textLength="94.5" lengthAdjust="spacingAndGlyphs" >4.7 mF cm<tspan font-size="10" dy="-7">-2</tspan><tspan dy="7"></tspan></text>
<text x="731.5" y="556.5" font-size="17" fill="#2ccc2c" textLength="93.0" lengthAdjust="spacingAndGlyphs" >3.8 mF cm<tspan font-size="10" dy="-7">-2</tspan><tspan dy="7"></tspan></text>
<text x="866.0" y="334.8" font-size="22" fill="#111" >(f)</text>
<rect x="924.1" y="324.9" width="350.9" height="261.4" fill="none" stroke="#4a4a4a" stroke-width="2.8"/>
<line x1="919.1" y1="324.9" x2="924.1" y2="324.9" stroke="#4a4a4a" stroke-width="1.8" />
<line x1="919.1" y1="390.2" x2="924.1" y2="390.2" stroke="#4a4a4a" stroke-width="1.8" />
<line x1="919.1" y1="455.6" x2="924.1" y2="455.6" stroke="#4a4a4a" stroke-width="1.8" />
<line x1="919.1" y1="520.9" x2="924.1" y2="520.9" stroke="#4a4a4a" stroke-width="1.8" />
<line x1="919.1" y1="586.3" x2="924.1" y2="586.3" stroke="#4a4a4a" stroke-width="1.8" />
<line x1="921.1" y1="341.2" x2="924.1" y2="341.2" stroke="#4a4a4a" stroke-width="1.8" />
<line x1="921.1" y1="357.6" x2="924.1" y2="357.6" stroke="#4a4a4a" stroke-width="1.8" />
<line x1="921.1" y1="373.9" x2="924.1" y2="373.9" stroke="#4a4a4a" stroke-width="1.8" />
<line x1="921.1" y1="406.6" x2="924.1" y2="406.6" stroke="#4a4a4a" stroke-width="1.8" />
<line x1="921.1" y1="422.9" x2="924.1" y2="422.9" stroke="#4a4a4a" stroke-width="1.8" />
<line x1="921.1" y1="439.3" x2="924.1" y2="439.3" stroke="#4a4a4a" stroke-width="1.8" />
<line x1="921.1" y1="471.9" x2="924.1" y2="471.9" stroke="#4a4a4a" stroke-width="1.8" />
<line x1="921.1" y1="488.3" x2="924.1" y2="488.3" stroke="#4a4a4a" stroke-width="1.8" />
<line x1="921.1" y1="504.6" x2="924.1" y2="504.6" stroke="#4a4a4a" stroke-width="1.8" />
<line x1="921.1" y1="537.3" x2="924.1" y2="537.3" stroke="#4a4a4a" stroke-width="1.8" />
<line x1="921.1" y1="553.6" x2="924.1" y2="553.6" stroke="#4a4a4a" stroke-width="1.8" />
<line x1="921.1" y1="570.0" x2="924.1" y2="570.0" stroke="#4a4a4a" stroke-width="1.8" />
<line x1="924.1" y1="586.3" x2="924.1" y2="591.3" stroke="#4a4a4a" stroke-width="1.8" />
<line x1="1011.7" y1="586.3" x2="1011.7" y2="591.3" stroke="#4a4a4a" stroke-width="1.8" />
<line x1="1099.3" y1="586.3" x2="1099.3" y2="591.3" stroke="#4a4a4a" stroke-width="1.8" />
<line x1="1186.9" y1="586.3" x2="1186.9" y2="591.3" stroke="#4a4a4a" stroke-width="1.8" />
<line x1="1274.5" y1="586.3" x2="1274.5" y2="591.3" stroke="#4a4a4a" stroke-width="1.8" />
<line x1="967.9" y1="586.3" x2="967.9" y2="589.3" stroke="#4a4a4a" stroke-width="1.8" />
<line x1="1055.5" y1="586.3" x2="1055.5" y2="589.3" stroke="#4a4a4a" stroke-width="1.8" />
<line x1="1143.1" y1="586.3" x2="1143.1" y2="589.3" stroke="#4a4a4a" stroke-width="1.8" />
<line x1="1230.7" y1="586.3" x2="1230.7" y2="589.3" stroke="#4a4a4a" stroke-width="1.8" />
<text x="915.0" y="330.6" font-size="16" fill="#111" text-anchor="end" >0</text>
<text x="915.0" y="396.0" font-size="16" fill="#111" text-anchor="end" >-100</text>
<text x="915.0" y="461.3" font-size="16" fill="#111" text-anchor="end" >-200</text>
<text x="915.0" y="526.7" font-size="16" fill="#111" text-anchor="end" >-300</text>
<text x="915.0" y="592.0" font-size="16" fill="#111" text-anchor="end" >-400</text>
<text x="923.8" y="606.0" font-size="15.5" fill="#111" text-anchor="middle" >0</text>
<text x="1011.6" y="606.0" font-size="15.5" fill="#111" text-anchor="middle" >5</text>
<text x="1099.5" y="606.0" font-size="15.5" fill="#111" text-anchor="middle" >10</text>
<text x="1187.1" y="606.0" font-size="15.5" fill="#111" text-anchor="middle" >15</text>
<text x="1271.2" y="606.0" font-size="15.5" fill="#111" text-anchor="middle" >20</text>
<text x="1069.5" y="627.5" font-size="21" fill="#111" textLength="75.5" lengthAdjust="spacingAndGlyphs" >Time(h)</text>
<text x="881.0" y="554.2" font-size="21" fill="#111" textLength="182.0" lengthAdjust="spacingAndGlyphs" transform="rotate(-90 881.0 554.2)" >Overpotential(mV)</text>
<polyline points="924.6,392.5 925.6,392.9 926.6,392.8 927.6,393.2 928.6,393.3 929.6,392.7 930.6,392.8 931.6,393.8 932.6,393.2 933.6,393.3 934.6,394.3 935.6,393.8 936.6,394.3 937.6,394.0 938.6,394.2 939.6,393.7 940.6,394.4 941.6,394.7 942.6,394.4 943.6,394.7 944.6,394.7 945.6,394.0 946.6,394.9 947.6,394.8 948.6,394.5 949.6,394.3 950.6,395.3 951.6,394.9 952.6,395.3 953.6,395.6 954.6,395.4 955.6,395.7 956.6,395.2 957.6,395.6 958.6,395.2 959.6,395.7 960.6,395.6 961.6,394.6 962.6,394.7 963.6,394.7 964.6,395.6 965.6,394.9 966.6,395.1 967.6,394.7 968.6,394.9 969.6,394.7 970.6,394.6 971.6,394.9 972.6,394.8 973.6,395.2 974.6,394.9 975.6,395.1 976.6,395.0 977.6,395.1 978.6,394.7 979.6,394.1 980.6,394.9 981.6,395.0 982.6,394.9 983.6,394.4 984.6,394.6 985.6,393.9 986.6,394.6 987.6,394.3 988.6,393.9 989.6,393.6 990.6,394.5 991.6,394.6 992.6,393.5 993.6,394.3 994.6,393.8 995.6,393.4 996.6,393.5 997.6,394.1 998.6,394.1 999.6,393.1 1000.6,393.7 1001.6,393.0 1002.6,393.8 1003.6,393.3 1004.6,393.9 1005.6,394.0 1006.6,393.3 1007.6,393.9 1008.6,393.0 1009.6,392.7 1010.6,393.3 1011.6,392.5 1012.6,392.7 1013.6,392.9 1014.6,393.1 1015.6,392.5 1016.6,392.3 1017.6,393.3 1018.6,392.6 1019.6,393.4 1020.6,393.3 1021.6,392.7 1022.6,392.8 1023.6,392.8 1024.6,393.0 1025.6,392.9 1026.6,392.9 1027.6,393.0 1028.6,393.4 1029.6,392.8 1030.6,392.8 1031.6,393.1 1032.6,392.5 1033.6,392.6 1034.6,393.4 1035.6,392.9 1036.6,392.9 1037.6,392.3 1038.6,392.8 1039.6,393.0 1040.6,392.3 1041.6,393.0 1042.6,393.0 1043.6,392.4 1044.6,393.0 1045.6,392.9 1046.6,393.1 1047.6,392.7 1048.6,393.2 1049.6,393.2 1050.6,392.3 1051.6,392.4 1052.6,393.1 1053.6,393.5 1054.6,392.6 1055.6,392.9 1056.6,393.0 1057.6,392.7 1058.6,392.8 1059.6,392.7 1060.6,392.8 1061.6,393.1 1062.6,392.7 1063.6,392.8 1064.6,393.3 1065.6,392.4 1066.6,393.0 1067.6,393.2 1068.6,392.7 1069.6,392.6 1070.6,393.3 1071.6,392.7 1072.6,392.6 1073.6,392.9 1074.6,393.2 1075.6,392.5 1076.6,392.8 1077.6,392.8 1078.6,393.5 1079.6,393.0 1080.6,393.6 1081.6,392.8 1082.6,393.1 1083.6,393.5 1084.6,393.8 1085.6,393.3 1086.6,393.1 1087.6,393.0 1088.6,393.6 1089.6,393.2 1090.6,394.0 1091.6,394.1 1092.6,393.4 1093.6,393.5 1094.6,394.2 1095.6,394.1 1096.6,394.3 1097.6,393.8 1098.6,393.6 1099.6,393.8 1100.6,394.5 1101.6,394.0 1102.6,394.2 1103.6,394.4 1104.6,394.6 1105.6,394.7 1106.6,395.4 1107.6,394.6 1108.6,394.6 1109.6,395.8 1110.6,395.9 1111.6,396.1 1112.6,395.6 1113.6,396.3 1114.6,396.4 1115.6,395.7 1116.6,396.5 1117.6,396.7 1118.6,396.6 1119.6,396.6 1120.6,396.4 1121.6,396.6 1122.6,396.6 1123.6,396.4 1124.6,397.1 1125.6,396.8 1126.6,397.5 1127.6,396.6 1128.6,397.7 1129.6,397.5 1130.6,397.9 1131.6,397.9 1132.6,397.9 1133.6,397.6 1134.6,397.0 1135.6,397.9 1136.6,397.3 1137.6,397.5 1138.6,398.0 1139.6,397.9 1140.6,397.8 1141.6,398.5 1142.6,398.1 1143.6,397.9 1144.6,397.8 1145.6,398.6 1146.6,398.2 1147.6,398.6 1148.6,398.2 1149.6,398.0 1150.6,398.5 1151.6,398.9 1152.6,398.2 1153.6,399.0 1154.6,399.2 1155.6,399.1 1156.6,399.2 1157.6,398.3 1158.6,399.1 1159.6,399.4 1160.6,398.5 1161.6,398.8 1162.6,398.8 1163.6,399.2 1164.6,399.1 1165.6,399.3 1166.6,399.7 1167.6,398.8 1168.6,398.9 1169.6,399.1 1170.6,399.1 1171.6,399.1 1172.6,400.2 1173.6,400.1 1174.6,399.3 1175.6,399.8 1176.6,399.6 1177.6,399.7 1178.6,399.7 1179.6,400.1 1180.6,400.1 1181.6,399.9 1182.6,399.7 1183.6,399.9 1184.6,399.7 1185.6,400.3 1186.6,400.5 1187.6,400.1 1188.6,399.8 1189.6,400.0 1190.6,400.2 1191.6,400.6 1192.6,400.8 1193.6,400.4 1194.6,400.9 1195.6,400.7 1196.6,400.5 1197.6,400.5 1198.6,400.7 1199.6,401.0 1200.6,400.7 1201.6,401.1 1202.6,400.8 1203.6,400.6 1204.6,401.0 1205.6,401.2 1206.6,400.5 1207.6,401.0 1208.6,401.0 1209.6,401.6 1210.6,401.7 1211.6,401.1 1212.6,401.7 1213.6,401.6 1214.6,401.0 1215.6,401.3 1216.6,401.0 1217.6,401.8 1218.6,401.7 1219.6,402.0 1220.6,401.9 1221.6,401.8 1222.6,401.9 1223.6,401.8 1224.6,401.2 1225.6,401.9 1226.6,401.2 1227.6,401.4 1228.6,402.2 1229.6,401.4 1230.6,401.5 1231.6,401.5 1232.6,402.5 1233.6,401.7 1234.6,401.6 1235.6,402.6 1236.6,401.8 1237.6,402.7 1238.6,402.5 1239.6,402.8 1240.6,402.9 1241.6,402.5 1242.6,402.8 1243.6,402.0 1244.6,402.9 1245.6,402.6 1246.6,402.9 1247.6,402.2 1248.6,403.1 1249.6,403.3 1250.6,402.3 1251.6,402.7 1252.6,403.0 1253.6,403.4 1254.6,402.7 1255.6,402.7 1256.6,402.8 1257.6,403.3 1258.6,403.5 1259.6,403.1 1260.6,403.1 1261.6,403.2 1262.6,403.2 1263.6,403.3 1264.6,403.0 1265.6,403.5 1266.6,404.1 1267.6,403.5 1268.6,403.9 1269.6,403.3 1270.6,404.0 1271.6,404.1 1272.6,404.0 1273.6,403.9 1274.6,403.9" fill="none" stroke="#f01cf0" stroke-width="5" stroke-linejoin="round" stroke-linecap="round" />
<polyline points="924.6,410.1 925.6,410.5 926.6,409.9 927.6,410.0 928.6,410.8 929.6,411.1 930.6,410.9 931.6,410.9 932.6,411.4 933.6,411.0 934.6,411.2 935.6,411.3 936.6,411.8 937.6,411.7 938.6,411.7 939.6,412.3 940.6,412.8 941.6,412.2 942.6,412.8 943.6,412.6 944.6,413.2 945.6,413.1 946.6,412.9 947.6,413.0 948.6,413.0 949.6,413.6 950.6,413.6 951.6,413.6 952.6,413.9 953.6,414.0 954.6,414.6 955.6,414.1 956.6,415.1 957.6,414.7 958.6,415.0 959.6,415.0 960.6,415.5 961.6,415.6 962.6,415.5 963.6,415.6 964.6,416.0 965.6,416.2 966.6,415.9 967.6,416.4 968.6,416.8 969.6,416.4 970.6,416.3 971.6,416.5 972.6,417.1 973.6,417.2 974.6,417.6 975.6,417.7 976.6,417.2 977.6,417.3 978.6,417.5 979.6,417.6 980.6,418.2 981.6,418.5 982.6,418.7 983.6,418.2 984.6,418.9 985.6,418.5 986.6,418.7 987.6,419.2 988.6,418.6 989.6,418.8 990.6,419.6 991.6,419.2 992.6,419.4 993.6,419.7 994.6,419.9 995.6,419.4 996.6,419.8 997.6,420.0 998.6,420.2 999.6,420.0 1000.6,420.5 1001.6,421.0 1002.6,420.6 1003.6,420.9 1004.6,420.5 1005.6,420.8 1006.6,421.3 1007.6,420.8 1008.6,421.7 1009.6,421.8 1010.6,421.0 1011.6,422.0 1012.6,421.5 1013.6,422.0 1014.6,422.0 1015.6,421.7 1016.6,422.1 1017.6,422.2 1018.6,422.4 1019.6,422.0 1020.6,422.6 1021.6,422.9 1022.6,422.7 1023.6,422.6 1024.6,422.2 1025.6,422.6 1026.6,422.5 1027.6,422.9 1028.6,422.9 1029.6,422.8 1030.6,422.5 1031.6,423.0 1032.6,423.0 1033.6,422.6 1034.6,423.3 1035.6,423.1 1036.6,422.6 1037.6,423.5 1038.6,422.7 1039.6,422.9 1040.6,423.3 1041.6,423.2 1042.6,423.2 1043.6,423.4 1044.6,423.2 1045.6,423.1 1046.6,423.0 1047.6,422.8 1048.6,423.4 1049.6,423.4 1050.6,423.2 1051.6,423.4 1052.6,422.9 1053.6,422.8 1054.6,422.9 1055.6,423.3 1056.6,422.5 1057.6,422.9 1058.6,422.6 1059.6,423.1 1060.6,422.7 1061.6,422.6 1062.6,422.6 1063.6,422.7 1064.6,422.9 1065.6,422.5 1066.6,422.9 1067.6,422.2 1068.6,422.3 1069.6,422.1 1070.6,422.1 1071.6,422.7 1072.6,422.6 1073.6,422.0 1074.6,422.0 1075.6,422.2 1076.6,422.5 1077.6,422.5 1078.6,422.4 1079.6,422.2 1080.6,421.7 1081.6,421.9 1082.6,421.7 1083.6,422.0 1084.6,422.0 1085.6,421.6 1086.6,421.6 1087.6,422.1 1088.6,421.3 1089.6,422.1 1090.6,422.1 1091.6,422.1 1092.6,421.5 1093.6,421.7 1094.6,421.7 1095.6,421.7 1096.6,422.0 1097.6,421.7 1098.6,421.2 1099.6,421.8" fill="none" stroke="#1414f0" stroke-width="4.2" stroke-linejoin="round" stroke-linecap="round" />
<line x1="931.0" y1="353.6" x2="958.5" y2="353.6" stroke="#f01cf0" stroke-width="2.8" />
<text x="966.8" y="359.1" font-size="17" fill="#e830e8" textLength="105.0" lengthAdjust="spacingAndGlyphs" >Ni<tspan font-size="10.5" dy="0.3">2</tspan><tspan dy="-0.3">P-CoP/CC</tspan></text>
<line x1="931.8" y1="374.3" x2="958.5" y2="374.3" stroke="#1414f0" stroke-width="2.8" />
<text x="967.6" y="380.3" font-size="17" fill="#2020d8" textLength="63.0" lengthAdjust="spacingAndGlyphs" >CoP/CC</text>
<text x="1138.5" y="452.3" font-size="16" fill="#111" textLength="91.0" lengthAdjust="spacingAndGlyphs" >20 mA cm<tspan font-size="10" dy="-7">-2</tspan><tspan dy="7"></tspan></text>
</svg>
</body></html>
